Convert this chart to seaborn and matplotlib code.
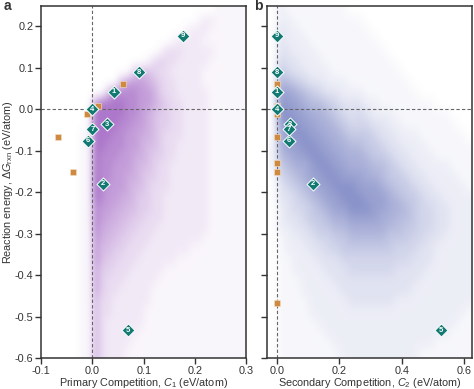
import numpy as np
import pandas as pd
import seaborn as sns
import matplotlib
matplotlib.use("Agg")
import matplotlib.pyplot as plt
from matplotlib.colors import LinearSegmentedColormap

# Labelled reactions (diamonds)
rxn_labels = ["1", "2", "3", "4", "5", "6", "7", "8", "9"]
rxn_dg = [0.042, -0.180, -0.036, 0.000, -0.533, -0.076, -0.048, 0.090, 0.178]
rxn_c1 = [0.042, 0.020, 0.029, 0.000, 0.070, -0.009, 0.000, 0.091, 0.177]
rxn_c2 = [0.000, 0.117, 0.041, 0.000, 0.524, 0.039, 0.040, 0.000, 0.000]

# Other highlighted reactions (orange squares)
sq_dg = [0.060, 0.009, -0.011, -0.067, -0.130, -0.151, -0.467]
sq_c1 = [0.060, 0.010, -0.011, -0.066, -0.130, -0.038, -0.467]
sq_c2 = [0.0, 0.0, 0.0, 0.0, 0.0, 0.0, 0.0]

# Density of the reaction cloud, read by eye (0 = empty .. 9 = densest)
# rows run from dG = 0.25 (top) down to -0.6 in 0.025 steps
left_extent = (-0.1, 0.3, -0.6, 0.25)      # C1 columns every 0.0125
left_density = [
    "00000000000000000000000000011111",
    "00000000000000000000000012211111",
    "00000000000000000000001222111111",
    "00000000000000000000122221111111",
    "00000000000000000013332222211111",
    "00000000000000001343322222111111",
    "00000000000000455433222221111111",
    "00000000000057776543322221111111",
    "00000000005888877643322222111111",
    "00000000799998877654332222111111",
    "00000001999998876544332222111111",
    "00000001999988776544332222111111",
    "00000011999887766543332222111111",
    "00000011998887765543322222111111",
    "00000011988877665443322222111111",
    "00000011988777655433222222111111",
    "00000011988776654433222222111111",
    "00000011987776554333222222111111",
    "00000011987766544332222222111111",
    "00000011877665544332222222111111",
    "00000011876655443332222222111111",
    "00000011866554433322222222111111",
    "00000011765544333222222221111111",
    "00000011755443332222222111111111",
    "00000011754433322222211111111111",
    "00000011644333222221111111111111",
    "00000011643332222211111111111111",
    "00000011643322222111111111111111",
    "00000011533222222111111111111111",
    "00000011533222221111111111111111",
    "00000011532222221111111111111111",
    "00000011532222211111111111111111",
    "00000011532222111111111111111111",
    "00000011532221111111111111111111",
]
right_extent = (-0.025, 0.625, -0.6, 0.25)  # C2 columns every 0.025
right_density = [
    "02111111110000000000000000",
    "02211111111100000000000000",
    "03221111111110000000000000",
    "03222111111111000000000000",
    "03322211111111100000000000",
    "04332221111111110000000000",
    "05433222111111111000000000",
    "07654332221111111100000000",
    "08876543322211111110000000",
    "09887665433322111111100000",
    "09988776543432221111111000",
    "08998877654443322111111100",
    "07899887765554332221111110",
    "17889988776655433222111111",
    "16788998877765543322211111",
    "15677899887776654332222111",
    "04567889988877655433222211",
    "03456788999888765543322221",
    "03345678899988876554332222",
    "02344567889998877654433222",
    "02334556778888776654433222",
    "02233455667777766554433222",
    "01223344556666655544332222",
    "01222334455555554443322222",
    "01122233344444444433322222",
    "01122223334444443333222222",
    "01112222333333333332222222",
    "01112222233333333322222222",
    "01111222223333332222222222",
    "01111222222222222222222221",
    "01111122222222222222222211",
    "01111112222222222222222111",
    "01111111222222222222211111",
    "01111111122222222221111111",
]

level_strength = np.array([0, .07, .16, .26, .37, .49, .61, .73, .86, 1.0])


def density_grid(rows):
    return level_strength[np.array([[int(c) for c in r] for r in rows])]


sns.set_style("ticks")
plt.rcParams.update({
    "font.family": ["Liberation Sans", "DejaVu Sans"],
    "font.size": 7.8,
    "axes.unicode_minus": False,
    "mathtext.fontset": "custom",
    "mathtext.rm": "Liberation Sans",
    "mathtext.it": "Liberation Sans:italic",
    "axes.edgecolor": "#333333",
    "axes.linewidth": 1.1,
    "xtick.color": "#333333",
    "ytick.color": "#333333",
    "text.color": "#333333",
    "axes.labelcolor": "#333333",
})

fig = plt.figure(figsize=(4.74, 3.89), dpi=100)
ax1 = fig.add_axes([0.0865, 0.0797, 0.4335, 0.9056])
ax2 = fig.add_axes([0.5639, 0.0797, 0.4325, 0.9056])

panels = [
    (ax1, left_density, left_extent, "#ad78cb", rxn_c1, sq_c1, (-0.1, 0.3),
     [-0.1, 0.0, 0.1, 0.2, 0.3], "Primary Competition, $C_1$ (eV/atom)"),
    (ax2, right_density, right_extent, "#8a93ca", rxn_c2, sq_c2, (-0.03, 0.625),
     [0.0, 0.2, 0.4, 0.6], "Secondary Competition, $C_2$ (eV/atom)"),
]

for ax, dens, ext, col, rx, sx, xlim, xticks, xlabel in panels:
    cmap = LinearSegmentedColormap.from_list("cloud", ["#ffffff", col])
    ax.imshow(density_grid(dens), extent=ext, origin="upper", aspect="auto",
              cmap=cmap, vmin=0, vmax=1, interpolation="bicubic", zorder=0)
    ax.axhline(0, color="#666666", lw=0.8, ls=(0, (3, 2)), zorder=1)
    ax.axvline(0, color="#666666", lw=0.8, ls=(0, (3, 2)), zorder=1)

    sq = pd.DataFrame({"x": sx, "y": sq_dg})
    sns.scatterplot(data=sq, x="x", y="y", ax=ax, marker="s", s=14,
                    color="#cf8a42", edgecolor="#f3e2c8", linewidth=0.4, zorder=3)
    rx_df = pd.DataFrame({"x": rx, "y": rxn_dg, "label": rxn_labels})
    sns.scatterplot(data=rx_df, x="x", y="y", ax=ax, marker="D", s=44,
                    color="#137a73", edgecolor="white", linewidth=0.7, zorder=4)
    for _, row in rx_df.iterrows():
        ax.text(row["x"], row["y"], row["label"], color="white", fontsize=5.5,
                fontweight="bold", ha="center", va="center", zorder=5,
                clip_on=True)

    ax.set_xlim(*xlim)
    ax.set_ylim(-0.6, 0.25)
    ax.set_xticks(xticks)
    ax.set_yticks([-0.6, -0.5, -0.4, -0.3, -0.2, -0.1, 0.0, 0.1, 0.2])
    ax.set_xlabel(xlabel, labelpad=0.5)
    ax.tick_params(direction="out", length=4, width=1, pad=1.5)
    for sp in ax.spines.values():
        sp.set_visible(True)

ax1.set_ylabel(r"Reaction energy, $\Delta G_{\rm rxn}$ (eV/atom)", labelpad=0)
ax2.set_ylabel("")
ax2.tick_params(labelleft=False)

fig.text(0.008, 0.985, "a", fontsize=10, fontweight="bold", va="center")
fig.text(0.536, 0.985, "b", fontsize=10, fontweight="bold", va="center")

fig.savefig("out.png", dpi=100)
